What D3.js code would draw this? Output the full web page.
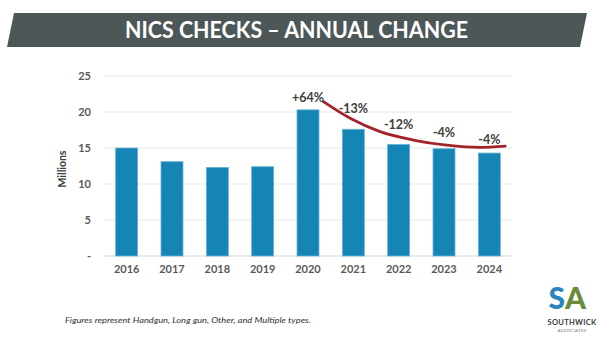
<!DOCTYPE html>
<html>
<head>
<meta charset="utf-8">
<script src="https://cdn.jsdelivr.net/npm/d3@7"></script>
<style>
  html, body { margin: 0; padding: 0; background: #fff; }
  svg { display: block; font-family: Lato, 'Open Sans', sans-serif; }
</style>
</head>
<body>
<script>
const width = 600
const height = 339

// chart data
const years = ['2016', '2017', '2018', '2019', '2020', '2021', '2022', '2023', '2024']
const checks = [15.0, 13.1, 12.3, 12.4, 20.3, 17.6, 15.5, 14.9, 14.3]
const yTicks = [0, 5, 10, 15, 20, 25]

// annual change callouts (value = height where the label sits, in millions)
const changeYears = ['2020', '2021', '2022', '2023', '2024']
const changeLabels = ['+64%', '-13%', '-12%', '-4%', '-4%']
const changeLabelAt = [22.0, 20.5, 18.3, 17.1, 16.2]

// hand drawn trend arc (year position, millions)
const trendYears = [2020.34, 2020.93, 2021.59, 2022.32, 2023.06, 2023.79, 2024.35]
const trendValues = [21.43, 19.12, 17.27, 16.11, 15.4, 15.09, 15.26]

const margin = {top: 76, right: 88, bottom: 83, left: 104}

const svg = d3.select('body')
    .append('svg')
    .attr('width', width)
    .attr('height', height)
    .attr('viewBox', `0 0 ${width} ${height}`)

// title banner
svg.append('path')
    .attr('d', 'M14,13 L587,13 L580,47 L7,47 Z')
    .attr('fill', '#4d5758')

svg.append('text')
    .attr('x', 296.5)
    .attr('y', 38.3)
    .attr('text-anchor', 'middle')
    .attr('fill', '#fff')
    .attr('font-weight', 700)
    .attr('font-size', 22)
    .attr('textLength', 343)
    .attr('lengthAdjust', 'spacingAndGlyphs')
    .text('NICS CHECKS – ANNUAL CHANGE')

const x = d3.scaleBand()
    .domain(years)
    .range([margin.left, width - margin.right])
    .paddingInner(0.515)
    .paddingOuter(0.2575)

const y = d3.scaleLinear()
    .domain([0, 25])
    .range([height - margin.bottom, margin.top])

const xYear = d3.scaleLinear()
    .domain([2016, 2024])
    .range([x('2016') + x.bandwidth() / 2, x('2024') + x.bandwidth() / 2])

// gridlines
svg.append('g')
    .selectAll('line')
    .data(yTicks)
    .enter()
    .append('line')
    .attr('x1', margin.left)
    .attr('x2', width - margin.right)
    .attr('y1', d => y(d))
    .attr('y2', d => y(d))
    .attr('stroke', d => d === 0 ? '#d9d9d9' : '#e8e8e8')
    .attr('stroke-width', 1)

// y axis labels
const yAxis = svg.append('g')
    .attr('transform', `translate(${margin.left - 13},0)`)
    .call(d3.axisLeft(y).tickValues(yTicks).tickSize(0).tickPadding(0)
        .tickFormat(d => d === 0 ? '-' : d))
yAxis.select('.domain').remove()
yAxis.selectAll('text')
    .attr('fill', '#595959')
    .attr('font-size', 11)
    .attr('font-weight', 700)
    .attr('font-family', 'Lato, sans-serif')

svg.append('text')
    .attr('transform', `translate(62,${(y(0) + y(25)) / 2 + 3}) rotate(-90)`)
    .attr('text-anchor', 'middle')
    .attr('dominant-baseline', 'central')
    .attr('fill', '#404040')
    .attr('font-size', 10.5)
    .attr('font-weight', 700)
    .text('Millions')

// bars
svg.append('g')
    .selectAll('rect')
    .data(years)
    .enter()
    .append('rect')
    .attr('x', d => x(d))
    .attr('width', x.bandwidth())
    .attr('y', (d, i) => y(checks[i]))
    .attr('height', (d, i) => y(0) - y(checks[i]))
    .attr('fill', '#1585b5')
    .attr('stroke', '#6ab3d6')
    .attr('stroke-width', 0.8)

// x axis labels
const xAxis = svg.append('g')
    .attr('transform', `translate(0,${y(0) + 9})`)
    .call(d3.axisBottom(x).tickSize(0).tickPadding(0))
xAxis.select('.domain').remove()
xAxis.selectAll('text')
    .attr('fill', '#595959')
    .attr('font-size', 11)
    .attr('font-weight', 700)
    .attr('font-family', 'Lato, sans-serif')

// trend arc
const line = d3.line()
    .x(d => xYear(d[0]))
    .y(d => y(d[1]))
    .curve(d3.curveMonotoneX)

svg.append('path')
    .datum(trendYears.map((t, i) => [t, trendValues[i]]))
    .attr('d', line)
    .attr('fill', 'none')
    .attr('stroke', '#a3232b')
    .attr('stroke-width', 2.8)
    .attr('stroke-linecap', 'round')

// change labels
svg.append('g')
    .selectAll('text')
    .data(changeYears)
    .enter()
    .append('text')
    .attr('x', d => x(d) + x.bandwidth() / 2)
    .attr('y', (d, i) => y(changeLabelAt[i]))
    .attr('text-anchor', 'middle')
    .attr('dominant-baseline', 'central')
    .attr('fill', '#404040')
    .attr('font-size', 12.5)
    .attr('font-weight', 700)
    .text((d, i) => changeLabels[i])

// footnote
svg.append('text')
    .attr('x', 65)
    .attr('y', 323)
    .attr('fill', '#333')
    .attr('font-size', 8.5)
    .attr('font-style', 'italic')
    .attr('textLength', 246)
    .attr('lengthAdjust', 'spacingAndGlyphs')
    .text('Figures represent Handgun, Long gun, Other, and Multiple types.')

// logo
const logo = svg.append('g')
logo.append('text')
    .attr('x', 565)
    .attr('y', 309)
    .attr('text-anchor', 'end')
    .attr('fill', '#2b86bd')
    .attr('font-size', 30)
    .attr('font-weight', 900)
    .text('S')
logo.append('text')
    .attr('x', 565)
    .attr('y', 309)
    .attr('fill', '#6a8b3c')
    .attr('font-size', 30)
    .attr('font-weight', 900)
    .text('A')
logo.append('text')
    .attr('x', 572)
    .attr('y', 325)
    .attr('text-anchor', 'middle')
    .attr('fill', '#3a3a3a')
    .attr('font-size', 7.5)
    .attr('font-weight', 700)
    .attr('letter-spacing', 0.3)
    .text('SOUTHWICK')
logo.append('text')
    .attr('x', 572)
    .attr('y', 332)
    .attr('text-anchor', 'middle')
    .attr('fill', '#777')
    .attr('font-size', 4.5)
    .attr('letter-spacing', 0.3)
    .text('ASSOCIATES')
</script>
</body>
</html>
